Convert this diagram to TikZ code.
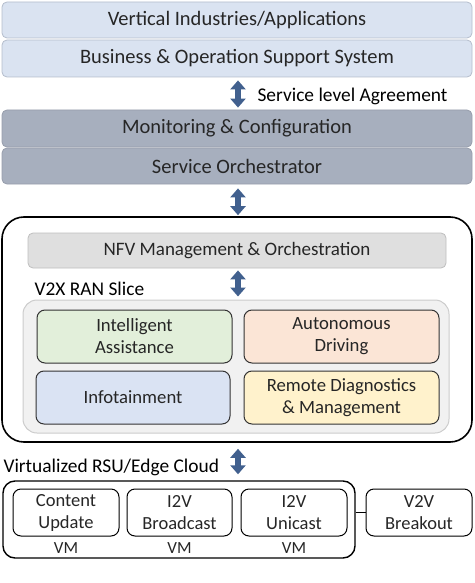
\documentclass[tikz,border=0pt]{standalone}
\usepackage{fontspec}
\setmainfont{Carlito}
\usetikzlibrary{arrows.meta,positioning}
\definecolor{toplayer}{HTML}{DAE3F1}
\definecolor{toprule}{HTML}{B4BDCC}
\definecolor{orchlayer}{HTML}{A7AFBE}
\definecolor{nfvgray}{HTML}{DFDFDF}
\definecolor{slicegray}{HTML}{F1F1F1}
\definecolor{greenbox}{HTML}{E2EFDA}
\definecolor{peachbox}{HTML}{FBE5D6}
\definecolor{bluebox}{HTML}{DAE3F3}
\definecolor{yellowbox}{HTML}{FFF2CC}
\definecolor{arrowblue}{HTML}{41608E}
\tikzset{
  layer/.style={draw=toprule, fill=toplayer, rounded corners=5pt, line width=0.8pt,
    minimum width=470pt, font=\fontsize{20.5}{23}\selectfont, text=black!85},
  orch/.style={layer, draw=orchlayer!90!black, fill=orchlayer},
  service/.style={draw=black!80, rounded corners=8pt, line width=1pt, minimum width=195pt,
    minimum height=53pt, align=center, font=\fontsize{18.7}{22}\selectfont, text=black!85},
  vmbox/.style={draw=black, rounded corners=8pt, line width=1pt, minimum width=106pt,
    minimum height=47pt, align=center, font=\fontsize{18.5}{22}\selectfont, text=black!85},
  vmlabel/.style={font=\fontsize{17}{19}\selectfont, text=black!85},
  tag/.style={font=\fontsize{19.4}{22}\selectfont, anchor=west},
  updown/.style={{Triangle[width=15pt,length=9pt]}-{Triangle[width=15pt,length=9pt]},
    line width=6pt, arrowblue},
}
\begin{document}
\begin{tikzpicture}[x=1pt, y=-1pt]
  \useasboundingbox (0,0) rectangle (474,583);
  % upper layers
  \node[layer, minimum height=36pt] (vert) at (237,20) {Vertical Industries/Applications};
  \node[layer, minimum height=37pt] (bss) at (237,58.5) {Business \& Operation Support System};
  \node[orch, minimum height=37pt] (moni) at (237,128.5) {Monitoring \& Configuration};
  \node[orch, minimum height=36pt] (orch) at (237,166) {Service Orchestrator};
  \node[tag] (sla) at (254,96) {Service level Agreement};
  % RAN container
  \node[draw=black, line width=1.6pt, rounded corners=22pt, minimum width=470pt,
    minimum height=225pt] (ran) at (237,329.5) {};
  \node[layer, draw=nfvgray!85!black, fill=nfvgray, minimum width=418pt, minimum height=35pt,
    font=\fontsize{19}{22}\selectfont] (nfv) at (237,250.5) {NFV Management \& Orchestration};
  \node[tag] (slicelabel) at (31,289) {V2X RAN Slice};
  \node[draw=black!20, fill=slicegray, rounded corners=14pt, line width=1pt, minimum width=426pt,
    minimum height=133pt] (slice) at (236,366.5) {};
  \node[service, fill=greenbox] (assist) at (134.5,336.5) {Intelligent\\Assistance};
  \node[service, fill=peachbox] (auto) at (341.5,336.5) {Autonomous\\Driving};
  \node[service, fill=bluebox, minimum width=194pt] (info) at (133,397.5) {Infotainment};
  \node[service, fill=yellowbox] (remote) at (341.5,397.5) {Remote Diagnostics\\\& Management};
  % edge cloud
  \node[tag] (edgelabel) at (0,467) {Virtualized RSU/Edge Cloud};
  \node[draw=black, line width=1.4pt, rounded corners=12pt, minimum width=352pt,
    minimum height=77pt] (edge) at (179,519.5) {};
  \node[vmbox] (content) at (66,512.5) {Content\\Update};
  \node[vmbox, minimum width=105pt] (bcast) at (179.5,512.5) {I2V\\Broadcast};
  \node[vmbox] (ucast) at (294,512.5) {I2V\\Unicast};
  \node[vmbox] (v2v) at (419,512.5) {V2V\\Breakout};
  \node[vmlabel] (vm1) at (66,548) {VM};
  \node[vmlabel] (vm2) at (179.5,548) {VM};
  \node[vmlabel] (vm3) at (294,548) {VM};
  % connectors
  \draw[updown, shorten <=3pt, shorten >=2pt] (bss.south -| 238,0) -- (moni.north -| 238,0);
  \draw[updown, shorten <=4pt, shorten >=1pt] (orch.south -| 238,0) -- (ran.north -| 238,0);
  \draw[updown, shorten <=2pt, shorten >=3pt] (nfv.south -| 238,0) -- (slice.north -| 238,0);
  \draw[updown, shorten <=6pt, shorten >=6pt] (ran.south -| 238,0) -- (edge.north -| 238,0);
  \draw[line width=1pt] (edge.east |- v2v.west) -- (v2v.west);
\end{tikzpicture}
\end{document}
